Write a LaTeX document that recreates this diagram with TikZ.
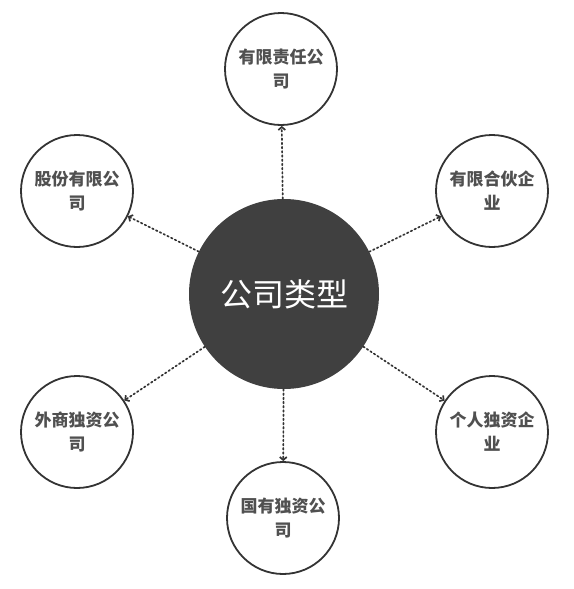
\documentclass[tikz,border=0pt]{standalone}
\usepackage{fontspec}
\newfontfamily\cjk{Noto Sans CJK SC}
\usetikzlibrary{arrows.meta}
\definecolor{ringgray}{HTML}{333333}
\definecolor{hubgray}{HTML}{404040}
\definecolor{textgray}{HTML}{505050}
\tikzset{
	kind/.style={circle, draw=ringgray, line width=1.8pt, minimum size=112pt,
		inner sep=0pt, align=center, text=textgray, font=\cjk\bfseries\fontsize{17}{24}\selectfont},
	hub/.style={circle, fill=hubgray, minimum size=190pt, inner sep=0pt,
		text=white, font=\cjk\fontsize{32}{38}\selectfont},
	link/.style={draw=ringgray, line width=1.7pt, dash pattern=on 1.6pt off 2.6pt,
		-{Straight Barb[length=3pt,width=7pt]}}
}
\begin{document}
\begin{tikzpicture}[x=1pt, y=-1pt, line join=round, line cap=round]
			\useasboundingbox (0,0) rectangle (573,589);
			% centre
			\node[hub] (type) at (284,294) {公司类型};
			% the six kinds
			\node[kind] (llc) at (281,69) {有限责任公\\司};
			\node[kind] (jsc) at (77,191) {股份有限公\\司};
			\node[kind] (lp) at (492,191) {有限合伙企\\业};
			\node[kind] (foreign) at (77,432) {外商独资公\\司};
			\node[kind] (sole) at (492,432) {个人独资企\\业};
			\node[kind] (state) at (283,518) {国有独资公\\司};
			\foreach \k in {llc,jsc,lp,foreign,sole,state}
				\draw[link] (type) -- (\k);
		\end{tikzpicture}
\end{document}
